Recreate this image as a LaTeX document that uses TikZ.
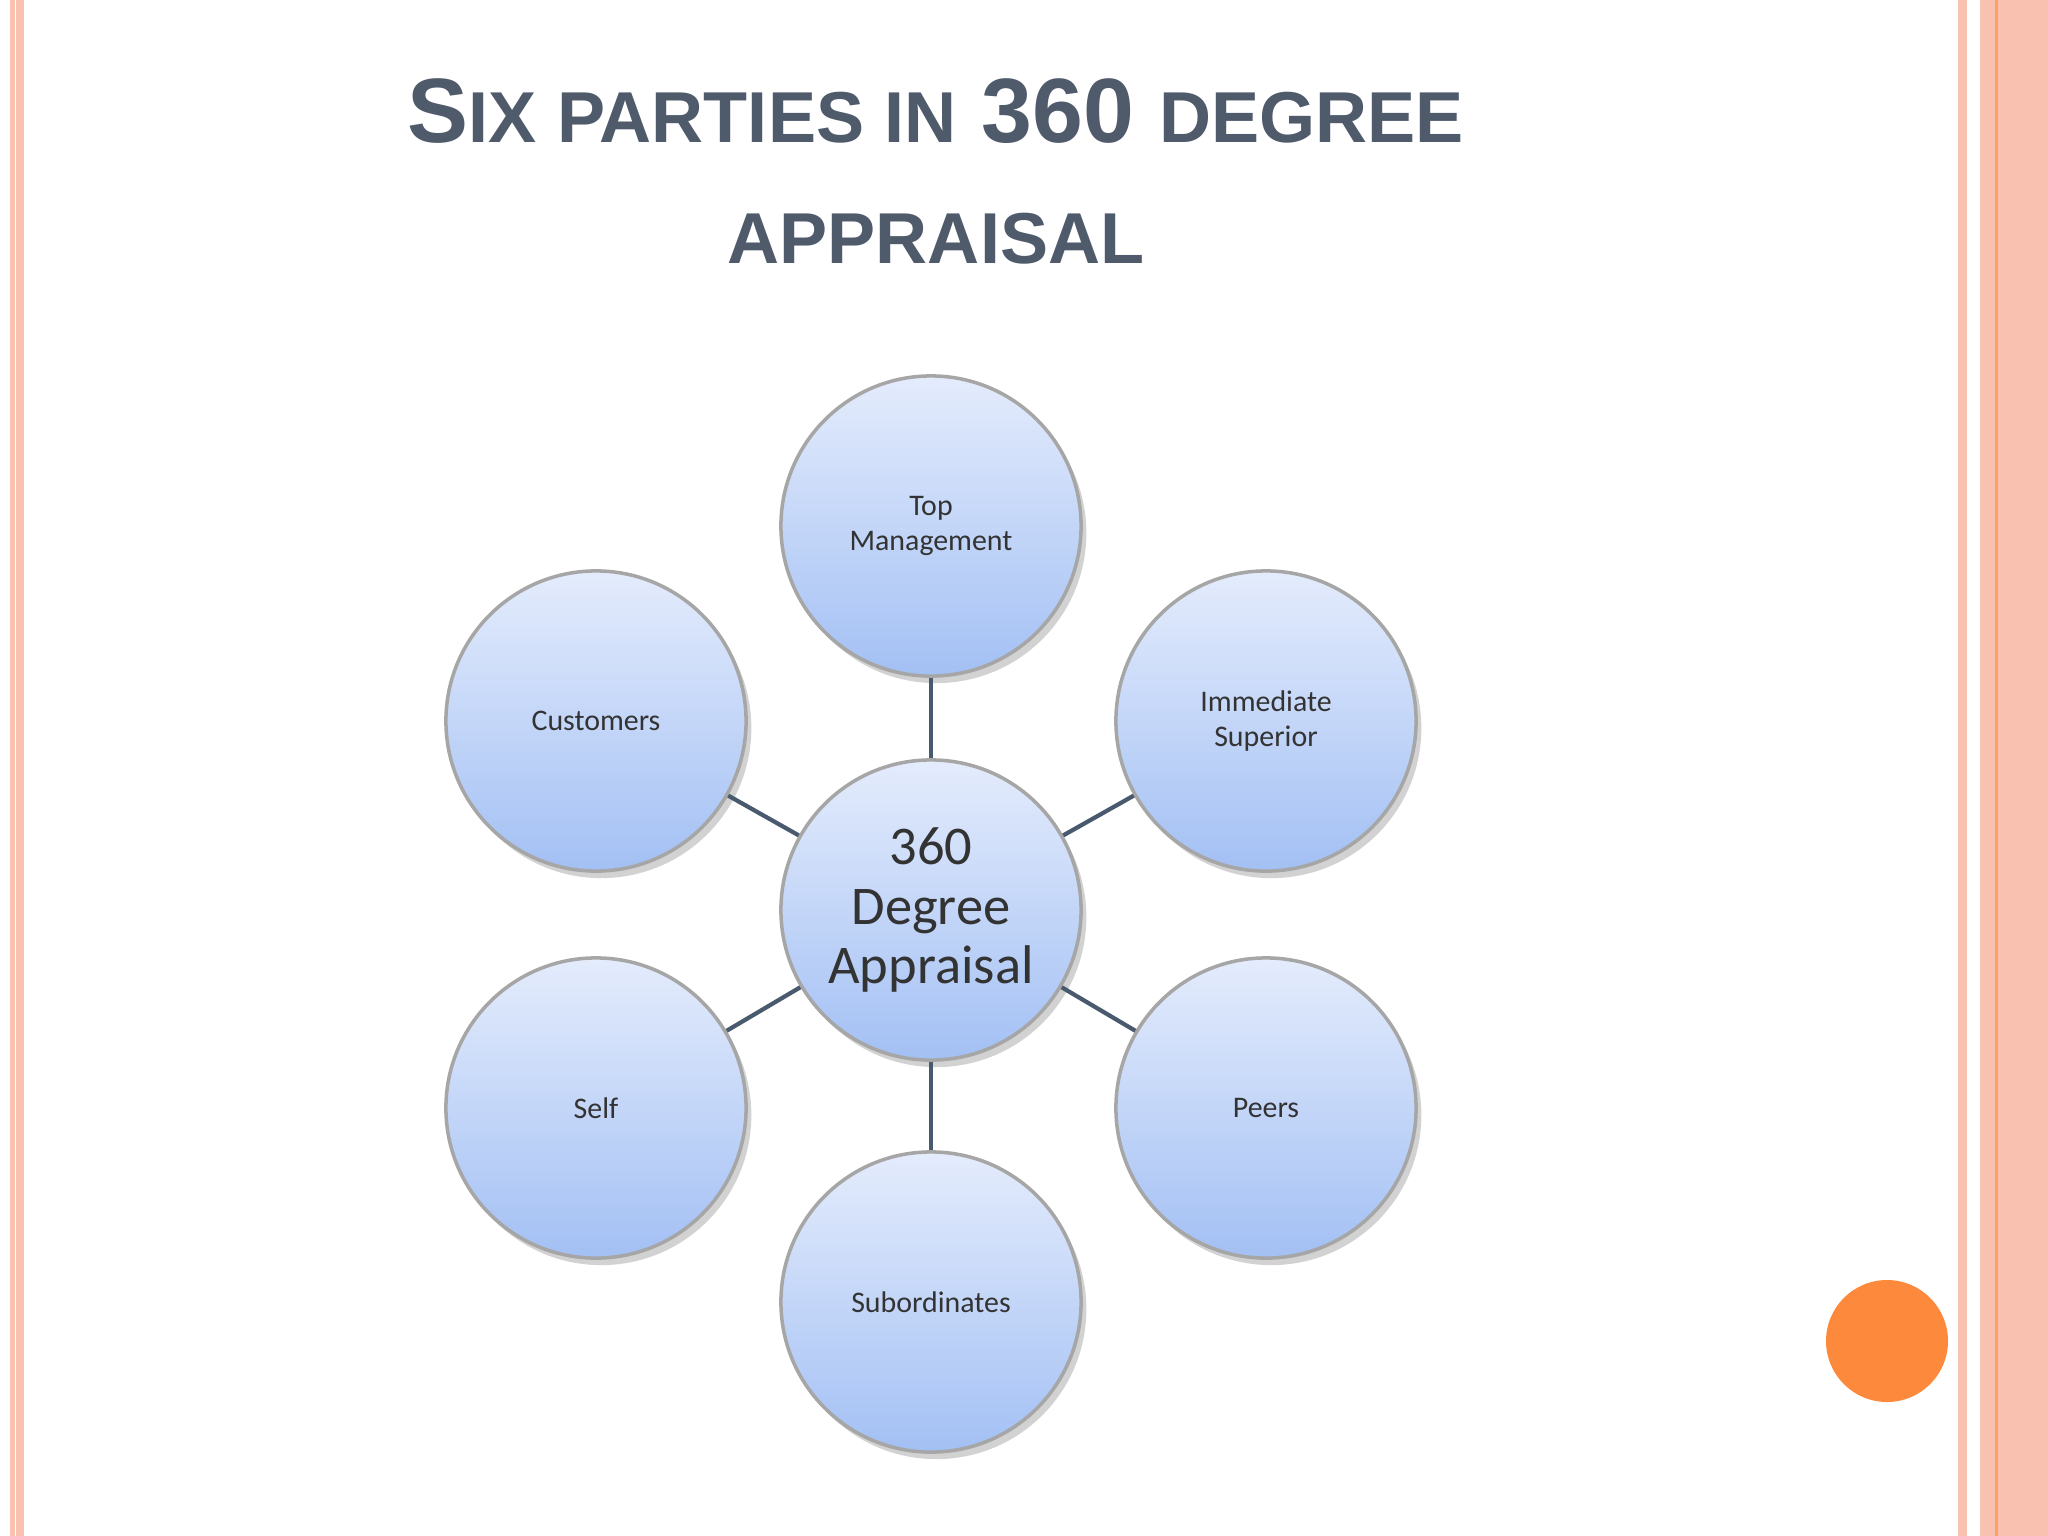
\documentclass[tikz,border=0pt]{standalone}
\usepackage{fontspec}
\setmainfont{Liberation Sans}
\newfontfamily\calib{Carlito}
\usetikzlibrary{shadows}
\definecolor{pinkb}{HTML}{F9C1B0}
\definecolor{orng}{HTML}{FD8A3C}
\definecolor{ttl}{HTML}{4F5A6B}
\definecolor{ctop}{HTML}{E4ECFC}
\definecolor{cbot}{HTML}{A3C0F4}
\definecolor{edgec}{HTML}{4A5A6E}
\tikzset{
 party/.style={circle,minimum size=3cm,draw=gray!70,line width=1pt,top color=ctop,bottom color=cbot,
   drop shadow={shadow xshift=1.5pt,shadow yshift=-2pt,opacity=0.35},
   font=\calib\fontsize{8.5}{10}\selectfont,text=black!80,align=center,inner sep=0pt},
 link/.style={draw=edgec,line width=1.2pt}
}
\begin{document}
\begin{tikzpicture}[x=0.01cm,y=-0.01cm]
\useasboundingbox (0,0) rectangle (2048,1536);
\fill[white] (0,0) rectangle (2048,1536);
\fill[pinkb] (10,0) rectangle (15,1536);
\fill[pinkb] (16,0) rectangle (24,1536);
\fill[pinkb] (1958,0) rectangle (1967,1536);
\fill[pinkb] (1980,0) rectangle (2048,1536);
\fill[orng!80] (1995,0) rectangle (1998,1536);
\node[text=ttl,font=\bfseries\fontsize{26}{30}\selectfont] (t1) at (936,111) {S{\fontsize{20.5}{24}\selectfont IX PARTIES IN} 360 {\fontsize{20.5}{24}\selectfont DEGREE}};
\node[text=ttl,font=\bfseries\fontsize{20.5}{24}\selectfont] (t2) at (936,239) {APPRAISAL};
\node[party] (tm) at (931,526) {Top\\Management};
\node[party] (cu) at (596,721) {Customers};
\node[party] (is) at (1266,721) {Immediate\\Superior};
\node[party] (se) at (596,1108) {Self};
\node[party] (pe) at (1266,1108) {Peers};
\node[party] (su) at (931,1302) {Subordinates};
\node[party,font=\calib\fontsize{15.5}{17}\selectfont] (c) at (931,910) {360\\Degree\\Appraisal};
\foreach \n in {tm,cu,is,se,pe,su} \draw[link] (c) -- (\n);
\fill[orng] (1887,1341) circle (61);
\end{tikzpicture}
\end{document}
